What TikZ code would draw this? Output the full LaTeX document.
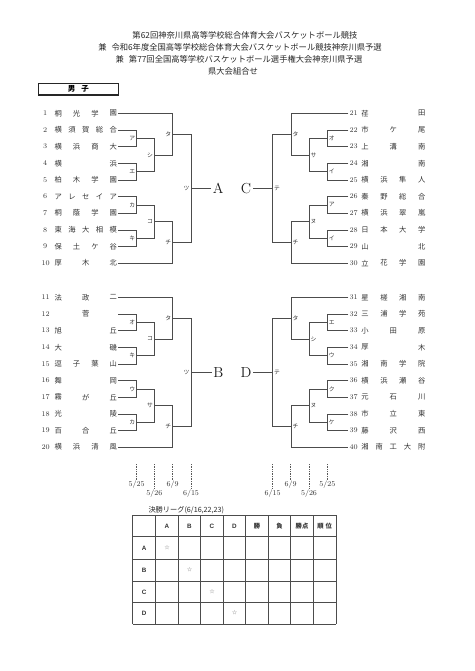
\documentclass[tikz,border=0pt]{standalone}
\usepackage{fontspec}
\newfontfamily\jp{Noto Sans CJK JP}
\newfontfamily\hv{Liberation Sans}
\usetikzlibrary{calc}

\tikzset{
  br/.style={draw=black!70, line width=0.75pt},
  nametxt/.style={font=\jp\fontsize{7.3}{7.3}\selectfont, text=black!80, inner sep=0pt},
  numtxt/.style={font=\fontsize{7.2}{7.2}\selectfont, text=black!80, inner sep=0pt},
  lbl/.style={font=\jp\fontsize{5.8}{5.8}\selectfont, text=black!80, inner sep=1.3pt},
  big/.style={font=\fontsize{14.5}{14.5}\selectfont, text=black!90, inner sep=1.5pt},
  dl/.style={draw=black!65, line width=0.6pt, dash pattern=on 0.9pt off 0.8pt},
  datetxt/.style={font=\fontsize{7.5}{7.5}\selectfont, text=black!80, inner sep=0.5pt},
  ttl/.style={font=\jp\fontsize{8.3}{8.3}\selectfont, text=black!85, inner sep=0pt},
  tl/.style={draw=black!70, line width=0.7pt},
  th/.style={font=\hv\bfseries\fontsize{6.3}{6.3}\selectfont, text=black!80, inner sep=0pt},
  thj/.style={font=\jp\bfseries\fontsize{6.3}{6.3}\selectfont, text=black!80, inner sep=0pt},
  star/.style={font=\jp\fontsize{5}{5}\selectfont, text=black!55, inner sep=0pt},
}

\newcommand\placechars[5]{%
  \foreach \tchar [count=\i] in {#4} {\xdef\nch{\i}}%
  \foreach \tchar [count=\i] in {#4} {%
    \ifnum\nch=1 \pgfmathsetmacro\xx{(#1+#2)/2}\else\pgfmathsetmacro\xx{#1+(\i-1)*(#2-#1)/(\nch-1)}\fi
    \node[nametxt] (c#5-\i) at (\xx,#3) {\tchar};
  }%
}
\newcommand\teamL[3]{%
  \ifnum#1<10 \node[numtxt, anchor=east] (nL#1) at (47.5,#2) {#1};%
  \else \node[numtxt, anchor=east] (nL#1) at (50,#2) {#1};\fi
  \coordinate (r#1) at (118.3,#2);
  \placechars{58.3}{113.3}{#2}{#3}{L#1}%
}
\newcommand\teamR[3]{%
  \node[numtxt, anchor=west] (nR#1) at (349.3,#2) {#1};
  \coordinate (r#1) at (348.3,#2);
  \placechars{365}{421.7}{#2}{#3}{R#1}%
}
\newcommand\match[6]{%
  \draw[br] (#1) -- (#1 -| #3) -- (#2 -| #3) -- (#2);
  \coordinate (#4) at ($(#1 -| #3)!0.5!(#2 -| #3)$);
  \node[lbl, anchor=#6] (l#4) at (#4) {#5};
}

\begin{document}
\begin{tikzpicture}[x=1pt, y=-1pt]
\useasboundingbox (0,0) rectangle (474,671);

% title
\node[ttl] (t1) at (245,35) {第62回神奈川県高等学校総合体育大会バスケットボール競技};
\node[ttl] (t2) at (240,47.5) {兼\hspace{0.6em}令和6年度全国高等学校総合体育大会バスケットボール競技神奈川県予選};
\node[ttl] (t3) at (239,59.5) {兼\hspace{0.6em}第77回全国高等学校バスケットボール選手権大会神奈川県予選};
\node[ttl] (t4) at (233,71) {県大会組合せ};

% boys box
\draw[draw=black!85, line width=1.3pt] (38.3,83.3) rectangle (118.3,95);
\node[font=\jp\bfseries\fontsize{7.5}{7.5}\selectfont, inner sep=0pt] (boys) at (78.3,89.2) {男\hspace{0.8em}子};

% guides
\coordinate (xl1) at (136.7,0);
\coordinate (xl2) at (154.3,0);
\coordinate (xl3) at (172.7,0);
\coordinate (xl4) at (191,0);
\coordinate (xr1) at (327.3,0);
\coordinate (xr2) at (309,0);
\coordinate (xr3) at (291,0);
\coordinate (xr4) at (272.7,0);

% left teams
\teamL{1}{113.3}{桐,光,学,園}
\teamL{2}{130.0}{横,須,賀,総,合}
\teamL{3}{146.6}{横,浜,商,大}
\teamL{4}{163.3}{横,浜}
\teamL{5}{179.9}{柏,木,学,園}
\teamL{6}{196.6}{ア,レ,セ,イ,ア}
\teamL{7}{213.2}{桐,蔭,学,園}
\teamL{8}{229.9}{東,海,大,相,模}
\teamL{9}{246.5}{保,土,ケ,谷}
\teamL{10}{263.2}{厚,木,北}
\teamL{11}{297.3}{法,政,二}
\teamL{12}{314.0}{菅}
\teamL{13}{330.6}{旭,丘}
\teamL{14}{347.3}{大,磯}
\teamL{15}{363.9}{逗,子,葉,山}
\teamL{16}{380.6}{舞,岡}
\teamL{17}{397.2}{霧,が,丘}
\teamL{18}{413.9}{光,陵}
\teamL{19}{430.5}{百,合,丘}
\teamL{20}{447.2}{横,浜,清,風}

% right teams
\teamR{21}{113.3}{荏,田}
\teamR{22}{130.0}{市,ケ,尾}
\teamR{23}{146.6}{上,溝,南}
\teamR{24}{163.3}{湘,南}
\teamR{25}{179.9}{横,浜,隼,人}
\teamR{26}{196.6}{秦,野,総,合}
\teamR{27}{213.2}{横,浜,翠,嵐}
\teamR{28}{229.9}{日,本,大,学}
\teamR{29}{246.5}{山,北}
\teamR{30}{263.2}{立,花,学,園}
\teamR{31}{297.3}{星,槎,湘,南}
\teamR{32}{314.0}{三,浦,学,苑}
\teamR{33}{330.6}{小,田,原}
\teamR{34}{347.3}{厚,木}
\teamR{35}{363.9}{湘,南,学,院}
\teamR{36}{380.6}{横,浜,瀬,谷}
\teamR{37}{397.2}{元,石,川}
\teamR{38}{413.9}{市,立,東}
\teamR{39}{430.5}{藤,沢,西}
\teamR{40}{447.2}{湘,南,工,大,附}

% block A
\match{r2}{r3}{xl1}{a1}{ア}{east}
\match{r4}{r5}{xl1}{a2}{エ}{east}
\match{a1}{a2}{xl2}{a3}{シ}{east}
\match{r1}{a3}{xl3}{a4}{タ}{east}
\match{r6}{r7}{xl1}{a5}{カ}{east}
\match{r8}{r9}{xl1}{a6}{キ}{east}
\match{a5}{a6}{xl2}{a7}{コ}{east}
\match{a7}{r10}{xl3}{a8}{チ}{east}
\match{a4}{a8}{xl4}{a9}{ツ}{east}
\node[big] (A) at ($(a9)+(27.3,0)$) {A};
\draw[br] (a9) -- (A.west);

% block B
\match{r12}{r13}{xl1}{b1}{オ}{east}
\match{r14}{r15}{xl1}{b2}{キ}{east}
\match{b1}{b2}{xl2}{b3}{コ}{east}
\match{r11}{b3}{xl3}{b4}{タ}{east}
\match{r16}{r17}{xl1}{b5}{ウ}{east}
\match{r18}{r19}{xl1}{b6}{カ}{east}
\match{b5}{b6}{xl2}{b7}{サ}{east}
\match{b7}{r20}{xl3}{b8}{チ}{east}
\match{b4}{b8}{xl4}{b9}{ツ}{east}
\node[big] (B) at ($(b9)+(27.3,0)$) {B};
\draw[br] (b9) -- (B.west);

% block C
\match{r22}{r23}{xr1}{c1}{オ}{west}
\match{r24}{r25}{xr1}{c2}{イ}{west}
\match{c1}{c2}{xr2}{c3}{サ}{west}
\match{r21}{c3}{xr3}{c4}{タ}{west}
\match{r26}{r27}{xr1}{c5}{ア}{west}
\match{r28}{r29}{xr1}{c6}{イ}{west}
\match{c5}{c6}{xr2}{c7}{ヌ}{west}
\match{c7}{r30}{xr3}{c8}{チ}{west}
\match{c4}{c8}{xr4}{c9}{テ}{west}
\node[big] (C) at ($(c9)+(-26.7,0)$) {C};
\draw[br] (c9) -- (C.east);

% block D
\match{r32}{r33}{xr1}{d1}{エ}{west}
\match{r34}{r35}{xr1}{d2}{ウ}{west}
\match{d1}{d2}{xr2}{d3}{シ}{west}
\match{r31}{d3}{xr3}{d4}{タ}{west}
\match{r36}{r37}{xr1}{d5}{ク}{west}
\match{r38}{r39}{xr1}{d6}{ケ}{west}
\match{d5}{d6}{xr2}{d7}{ヌ}{west}
\match{d7}{r40}{xr3}{d8}{チ}{west}
\match{d4}{d8}{xr4}{d9}{テ}{west}
\node[big] (D) at ($(d9)+(-26.7,0)$) {D};
\draw[br] (d9) -- (D.east);

% dates
\node[datetxt] (dl1) at (136.7,485) {5/25};
\node[datetxt] (dl2) at (154.3,493.3) {5/26};
\node[datetxt] (dl3) at (172.7,485) {6/9};
\node[datetxt] (dl4) at (191,493.3) {6/15};
\node[datetxt] (dr4) at (272.7,493.3) {6/15};
\node[datetxt] (dr3) at (290.7,485) {6/9};
\node[datetxt] (dr2) at (309,493.3) {5/26};
\node[datetxt] (dr1) at (327.3,485) {5/25};
\foreach \d in {dl1,dl2,dl3,dl4,dr1,dr2,dr3,dr4} {
  \coordinate (top\d) at (\d.north |- 0,464);
  \draw[dl] (top\d) -- ($(\d.north)+(0,-1)$);
}

% league table
\node[font=\jp\fontsize{7.2}{7.2}\selectfont, text=black!85, anchor=west, inner sep=0pt] (lg) at (148.3,510) {決勝リーグ(6/16,22,23)};
\foreach \x in {132.7,155.7,178.3,200.7,223.3,245.7,268.3,290.7,313.3,336} {\draw[tl] (\x,515) -- (\x,624.3);}
\foreach \y in {515,536.7,559.3,581,602.7,624.3} {\draw[tl] (132.7,\y) -- (336,\y);}
\draw[tl, line width=1.3pt] (155.7,515) -- (155.7,624.3);
\draw[tl, line width=1.3pt] (132.7,536.7) -- (336,536.7);

\node[th] (hA) at (167,525.85) {A};
\node[th] (hB) at (189.5,525.85) {B};
\node[th] (hC) at (212,525.85) {C};
\node[th] (hD) at (234.5,525.85) {D};
\node[thj] (hW) at (257,525.85) {勝};
\node[thj] (hL) at (279.5,525.85) {負};
\node[thj] (hP) at (302,525.85) {勝点};
\node[thj] (hR) at (324.7,525.85) {順\hspace{0.3em}位};
\node[th] (vA) at (144.2,548) {A};
\node[th] (vB) at (144.2,570.15) {B};
\node[th] (vC) at (144.2,591.85) {C};
\node[th] (vD) at (144.2,613.5) {D};
\node[star] (sA) at (167,547.5) {☆};
\node[star] (sB) at (189.5,569.6) {☆};
\node[star] (sC) at (212,591.3) {☆};
\node[star] (sD) at (234.5,613) {☆};
\end{tikzpicture}
\end{document}
